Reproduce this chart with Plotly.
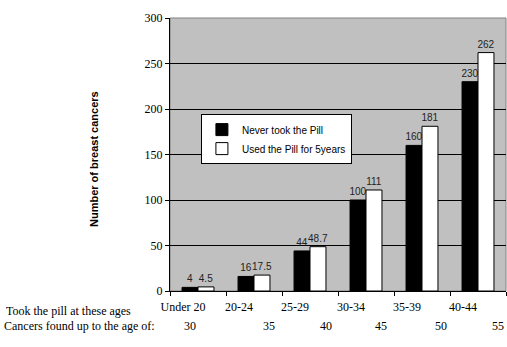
import plotly.graph_objects as go

# Breast cancer counts by age at which the pill was taken
age_groups = ["Under 20", "20-24", "25-29", "30-34", "35-39", "40-44"]
never_took = [4, 16, 44, 100, 160, 230]
used_5_years = [4.5, 17.5, 48.7, 111, 181, 262]
found_by_age = ["30", "35", "40", "45", "50", "55"]
found_by_age_x = [0.060, 0.295, 0.464, 0.628, 0.806, 0.976]

serif = "Liberation Serif, Times New Roman, serif"
sans = "Liberation Sans, Arial, sans-serif"

fig = go.Figure()
fig.add_trace(go.Bar(
    name="Never took the Pill", x=age_groups, y=never_took,
    marker=dict(color="black", line=dict(color="black", width=1)),
    texttemplate="%{y}", textposition="outside", constraintext="none",
    cliponaxis=False, textfont=dict(family=sans, size=10, color="#222222"),
))
fig.add_trace(go.Bar(
    name="Used the Pill for 5years", x=age_groups, y=used_5_years,
    marker=dict(color="white", line=dict(color="black", width=1)),
    texttemplate="%{y}", textposition="outside", constraintext="none",
    cliponaxis=False, textfont=dict(family=sans, size=10, color="#222222"),
))

annotations = [
    dict(text="Number of breast cancers", xref="paper", yref="paper",
         x=-0.25, y=0.4835, textangle=-90, showarrow=False,
         font=dict(family=sans, size=11, color="black", weight="bold")),
    dict(text="Took the pill at these ages", xref="paper", yref="paper",
         x=-0.494, y=-0.073, xanchor="left", yanchor="middle", showarrow=False,
         font=dict(family=serif, size=12, color="black")),
    dict(text="Cancers found up to the age of:", xref="paper", yref="paper",
         x=-0.5, y=-0.128, xanchor="left", yanchor="middle", showarrow=False,
         font=dict(family=serif, size=12, color="black")),
]
for lbl, px in zip(found_by_age, found_by_age_x):
    annotations.append(dict(text=lbl, xref="paper", yref="paper", x=px, y=-0.128,
                            xanchor="center", yanchor="middle", showarrow=False,
                            font=dict(family=serif, size=12, color="black")))

fig.update_layout(
    width=507, height=347,
    margin=dict(l=170, r=1, t=18, b=56),
    paper_bgcolor="white", plot_bgcolor="#C0C0C0",
    barmode="group", bargap=0.43, bargroupgap=0,
    showlegend=True,
    legend=dict(x=0.092, y=0.648, xanchor="left", yanchor="top",
                bgcolor="white", bordercolor="black", borderwidth=1,
                font=dict(family=sans, size=10, color="black"),
                itemwidth=30, traceorder="normal", tracegroupgap=0),
    annotations=annotations,
    shapes=[dict(type="rect", xref="paper", yref="paper", x0=0, y0=0, x1=1, y1=1,
                 line=dict(color="#808080", width=1), layer="below")],
)
fig.update_xaxes(
    showline=True, linecolor="black", linewidth=1,
    ticks="outside", tickson="boundaries", ticklen=4, tickcolor="black",
    ticklabelshift=-15, ticklabelstandoff=5,
    tickfont=dict(family=serif, size=12, color="black"),
    showgrid=False,
)
fig.update_yaxes(
    range=[0, 300], dtick=50, showline=True, linecolor="black", linewidth=1,
    ticks="outside", ticklen=4, tickcolor="black",
    tickfont=dict(family=serif, size=12, color="black"),
    showgrid=True, gridcolor="black", gridwidth=1, zeroline=False,
)

fig.write_html("out.html")
